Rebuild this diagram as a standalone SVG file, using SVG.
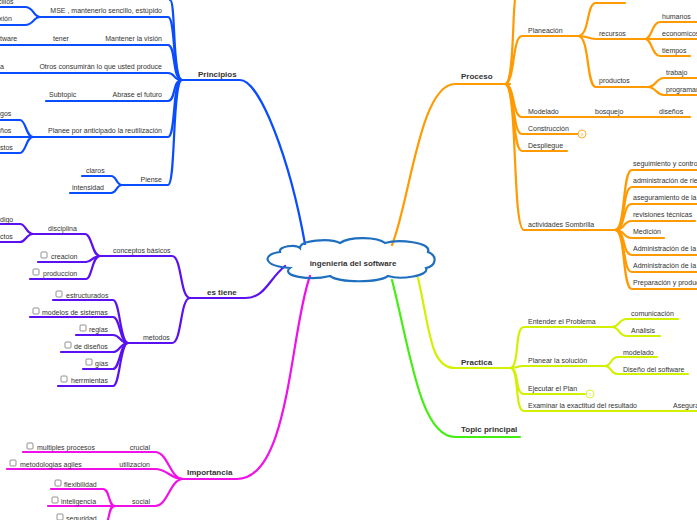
<svg xmlns="http://www.w3.org/2000/svg" width="697" height="520" viewBox="0 0 697 520">
<style>
text{font-family:"Liberation Sans",Arial,sans-serif;font-size:7px;fill:#333}
.m{font-size:8px;font-weight:bold}
.r{text-anchor:end}
path{fill:none;stroke-width:2.2;stroke-linecap:round}
.b{stroke:#0a4cff}.p{stroke:#5a10f0}.g{stroke:#f010e8}.o{stroke:#ff9a00}.y{stroke:#d2f000}.n{stroke:#44ee10}
.cb{fill:#fff;stroke:#777;stroke-width:0.8}
.ci{fill:#fff;stroke-width:0.8}
</style>
<g id="connectors">
<!-- main links -->
<path class="b" d="M305,244 C290,160 260,80 240,80 H182" stroke-width="2.6"/>
<path class="p" d="M285,266 C268,280 265,298 245,298 H190"/>
<path class="g" d="M310,276 C290,330 290,479 237,479 H183"/>
<path class="o" d="M392,245 C410,200 420,84 455,84 H510"/>
<path class="y" d="M418,278 C430,330 430,368 455,368 H510"/>
<path class="n" d="M392,280 C410,350 420,437 455,437 H520"/>
<!-- Principios -->
<path class="b" d="M182,80 C172,80 176,0 170,0"/>
<path class="b" d="M182,80 C172,80 176,17 168,17 H40"/>
<path class="b" d="M40,17 C33,17 34,7 25,7 H0"/>
<path class="b" d="M40,17 C33,17 34,25 25,25 H0"/>
<path class="b" d="M182,80 C172,80 176,45 168,45 H0"/>
<path class="b" d="M182,80 C172,80 176,73 168,73 H0"/>
<path class="b" d="M182,80 C172,80 176,101 168,101 H46"/>
<path class="b" d="M182,80 C172,80 176,137 168,137 H33"/>
<path class="b" d="M33,137 C26,137 26,120 20,120 H0"/>
<path class="b" d="M33,137 H0"/>
<path class="b" d="M33,137 C26,137 26,153 20,153 H0"/>
<path class="b" d="M182,80 C172,80 176,185 168,185 H122"/>
<path class="b" d="M122,185 C116,185 117,176 111,176 H82"/>
<path class="b" d="M122,185 C116,185 117,193 111,193 H70"/>
<!-- es tiene -->
<path class="p" d="M190,298 C180,298 182,256 172,256 H100"/>
<path class="p" d="M100,256 C92,256 92,234 85,234 H33"/>
<path class="p" d="M33,234 C26,234 26,224 20,224 H0"/>
<path class="p" d="M33,234 C26,234 26,242 20,242 H0"/>
<path class="p" d="M100,256 C92,256 92,262 86,262 H38"/>
<path class="p" d="M100,256 C92,256 92,279 86,279 H30"/>
<path class="p" d="M190,298 C180,298 182,343 172,343 H128"/>
<path class="p" d="M128,343 C120,343 120,300 113,300 H53"/>
<path class="p" d="M128,343 C120,343 120,317 113,317 H30"/>
<path class="p" d="M128,343 C120,343 120,335 113,335 H76"/>
<path class="p" d="M128,343 C120,343 120,352 113,352 H61"/>
<path class="p" d="M128,343 C120,343 120,369 113,369 H83"/>
<path class="p" d="M128,343 C120,343 120,386 113,386 H58"/>
<!-- Importancia -->
<path class="g" d="M183,479 C170,479 168,452 155,452 H23"/>
<path class="g" d="M183,479 C170,479 168,469 155,469 H7"/>
<path class="g" d="M183,479 C170,479 168,506 155,506 H115"/>
<path class="g" d="M115,506 C108,506 110,489 103,489 H51"/>
<path class="g" d="M115,506 H48"/>
<path class="g" d="M115,506 C108,506 110,520 106,524"/>
<!-- Proceso -->
<path class="o" d="M505,84 C515,84 512,0 516,-5"/>
<path class="o" d="M505,84 C515,84 512,36 522,36 H578"/>
<path class="o" d="M578,36 C590,36 586,3 596,3 H625"/>
<path class="o" d="M578,36 C590,36 586,39 596,39 H645"/>
<path class="o" d="M645,39 C652,39 652,22 660,22 H697"/>
<path class="o" d="M645,39 H697"/>
<path class="o" d="M645,39 C652,39 652,56 660,56 H690"/>
<path class="o" d="M578,36 C590,36 586,87 596,87 H648"/>
<path class="o" d="M648,87 C656,87 656,78 664,78 H697"/>
<path class="o" d="M648,87 C656,87 656,95 664,95 H697"/>
<path class="o" d="M505,84 C515,84 512,117 522,117 H690"/>
<path class="o" d="M505,84 C515,84 512,134 522,134 H578"/>
<path class="o" d="M505,84 C515,84 512,151 522,151 H567"/>
<path class="o" d="M505,84 C518,84 512,230 524,230 H615"/>
<path class="o" d="M615,230 C626,230 622,170 632,170 H697"/>
<path class="o" d="M615,230 C626,230 622,187 632,187 H697"/>
<path class="o" d="M615,230 C626,230 622,204 632,204 H697"/>
<path class="o" d="M615,230 C626,230 622,221 632,221 H695"/>
<path class="o" d="M615,230 C626,230 622,238 632,238 H664"/>
<path class="o" d="M615,230 C626,230 622,255 632,255 H697"/>
<path class="o" d="M615,230 C626,230 622,272 632,272 H697"/>
<path class="o" d="M615,230 C626,230 622,289 632,289 H697"/>
<!-- Practica -->
<path class="y" d="M510,368 C520,368 514,327 524,327 H612"/>
<path class="y" d="M612,327 C620,327 618,319 627,319 H678"/>
<path class="y" d="M612,327 C620,327 618,336 627,336 H660"/>
<path class="y" d="M510,368 C520,368 514,366 524,366 H605"/>
<path class="y" d="M605,366 C612,366 610,357 618,357 H657"/>
<path class="y" d="M605,366 C612,366 610,374 618,374 H688"/>
<path class="y" d="M510,368 C520,368 514,394 524,394 H585"/>
<path class="y" d="M510,368 C520,368 514,411 524,411 H697"/>
</g>
<g id="center">
<path d="M300,248 C300,240 330,238 340,243 C350,236 378,237 385,243 C398,239 432,242 428,252 C438,256 436,266 426,268 C430,276 400,280 388,276 C378,283 340,283 330,276 C310,281 280,276 290,268 C262,266 262,254 280,252 C278,246 296,244 300,248 Z" fill="#fff" stroke="#1e6fbf" stroke-width="2.2"/>
<text class="m" x="353" y="266" text-anchor="middle">ingenieria del software</text>
</g>
<g id="principios">
<text class="m" x="198" y="77">Principios</text>
<text class="r" x="162" y="13">MSE , mantenerlo sencillo, estúpido</text>
<text x="-2" y="4">cillos</text><text x="-1" y="21">xión</text>
<text x="0" y="41">tware</text><text x="53" y="41">tener</text><text class="r" x="162" y="41">Mantener la visión</text>
<text x="0" y="69">a</text><text class="r" x="162" y="69">Otros consumirán lo que usted produce</text>
<text x="49" y="97">Subtopic</text><text class="r" x="162" y="97">Abrase el futuro</text>
<text class="r" x="162" y="133">Planee por anticipado la reutilización</text>
<text x="0" y="116">gos</text><text x="0" y="133">ños</text><text x="0" y="150">stos</text>
<text class="r" x="162" y="182">Piense</text>
<text x="86" y="173">claros</text><text x="72" y="190">intensidad</text>
</g>
<g id="estiene">
<text class="m" x="207" y="295">es tiene</text>
<text x="113" y="253">conceptos básicos</text>
<text x="48" y="231">disciplina</text>
<text x="0" y="222">digo</text><text x="0" y="239">ctos</text>
<rect class="cb" x="41" y="252" width="6" height="6" rx="1"/><text x="51" y="259">creacion</text>
<rect class="cb" x="33" y="269" width="6" height="6" rx="1"/><text x="43" y="276">produccion</text>
<text x="143" y="340">metodos</text>
<rect class="cb" x="56" y="291" width="6" height="6" rx="1"/><text x="66" y="298">estructurados</text>
<rect class="cb" x="33" y="308" width="6" height="6" rx="1"/><text x="42" y="315">modelos de sistemas</text>
<rect class="cb" x="80" y="325" width="6" height="6" rx="1"/><text x="89" y="332">reglas</text>
<rect class="cb" x="65" y="342" width="6" height="6" rx="1"/><text x="74" y="349">de diseños</text>
<rect class="cb" x="86" y="359" width="6" height="6" rx="1"/><text x="95" y="366">gías</text>
<rect class="cb" x="61" y="376" width="6" height="6" rx="1"/><text x="71" y="383">herrmientas</text>
</g>
<g id="importancia">
<text class="m" x="187" y="475">Importancia</text>
<rect class="cb" x="27" y="443" width="6" height="6" rx="1"/><text x="37" y="450">multiples procesos</text><text class="r" x="150" y="450">crucial</text>
<rect class="cb" x="10" y="460" width="6" height="6" rx="1"/><text x="20" y="467">metodologias  agiles</text><text class="r" x="150" y="467">utilizacion</text>
<rect class="cb" x="55" y="480" width="6" height="6" rx="1"/><text x="64" y="487">flexibilidad</text>
<rect class="cb" x="52" y="497" width="6" height="6" rx="1"/><text x="61" y="504">inteligencia</text><text class="r" x="150" y="504">social</text>
<rect class="cb" x="57" y="514" width="6" height="6" rx="1"/><text x="66" y="521">seguridad</text>
</g>
<g id="proceso">
<text class="m" x="461" y="79">Proceso</text>
<text x="528" y="33">Planeación</text>
<text x="599" y="36">recursos</text>
<text x="662" y="19">humanos</text><text x="662" y="36">economicos</text><text x="662" y="53">tiempos</text>
<text x="599" y="83">productos</text>
<text x="666" y="75">trabajo</text><text x="666" y="92">programar</text>
<text x="528" y="114">Modelado</text><text x="595" y="114">bosquejo</text><text x="659" y="114">diseños</text>
<text x="528" y="131">Construcción</text>
<circle class="ci" cx="582" cy="134" r="4" stroke="#ff9a00"/><text x="582" y="136" text-anchor="middle" style="font-size:4px;fill:#ff9a00">3</text>
<text x="528" y="148">Despliegue</text>
<text x="528" y="227">actividades  Sombrilla</text>
<text x="633" y="166">seguimiento y control</text>
<text x="633" y="183">administración de riesgos</text>
<text x="633" y="200">aseguramiento de la calidad</text>
<text x="633" y="217">revisiones técnicas</text>
<text x="633" y="234">Medición</text>
<text x="633" y="251">Administración de la configuración</text>
<text x="633" y="268">Administración de la reutilización</text>
<text x="633" y="285">Preparación y producción</text>
</g>
<g id="practica">
<text class="m" x="461" y="365">Practica</text>
<text x="528" y="324">Entender el Problema</text>
<text x="631" y="316">comunicación</text><text x="631" y="333">Análisis</text>
<text x="528" y="363">Planear la solución</text>
<text x="623" y="355">modelado</text><text x="623" y="372">Diseño del software</text>
<text x="528" y="391">Ejecutar el Plan</text>
<circle class="ci" cx="590" cy="394" r="4" stroke="#d2f000"/><text x="590" y="396" text-anchor="middle" style="font-size:4px;fill:#c0d800">1</text>
<text x="528" y="408">Examinar la exactitud del resultado</text><text x="673" y="408">Asegurar</text>
</g>
<g id="topic">
<text class="m" x="461" y="432">Topic principal</text>
</g>
</svg>
